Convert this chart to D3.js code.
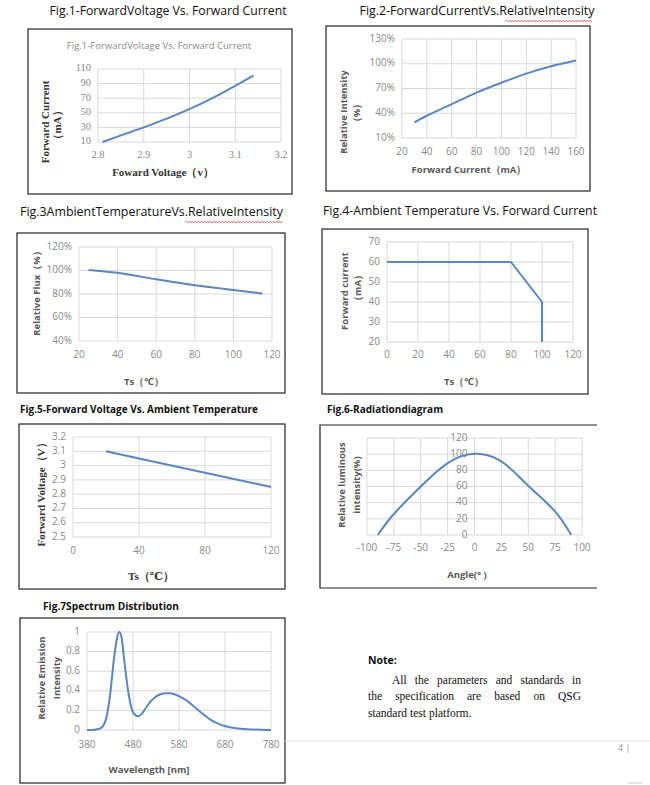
<!DOCTYPE html>
<html>
<head>
<meta charset="utf-8">
<script src="https://cdn.jsdelivr.net/npm/d3@7"></script>
<style>
  body { margin: 0; background: #fff; }
  svg { display: block; }
</style>
</head>
<body>
<div id="vizArea"></div>
<script>
// data
const fig1Voltage = [2.81, 2.85, 2.9, 2.95, 3.0, 3.05, 3.1, 3.14]
const fig1Current = [10, 19, 30, 42, 55, 70, 87, 101]

const fig2Current = [30, 40, 60, 80, 100, 120, 140, 160]
const fig2Intensity = [29, 37, 51, 65, 77, 88, 97, 104]

const fig3Temp = [25, 40, 60, 80, 100, 115]
const fig3Flux = [100.5, 98, 92.5, 87.5, 83.5, 80.5]

const fig4Temp = [0, 80, 100, 100]
const fig4Current = [60, 60, 40, 20]

const fig5Temp = [20, 40, 80, 120]
const fig5Voltage = [3.1, 3.05, 2.95, 2.85]

const fig6Angle = [-90, -75, -50, -25, 0, 25, 50, 75, 90]
const fig6Intensity = [0, 26, 60, 89, 100.5, 91, 61, 29, 0]

const fig7Wavelength = [380, 390, 400, 410, 420, 430, 440, 450, 455, 460, 470, 480, 490, 500, 510, 520, 530, 540, 550, 560,
    570, 580, 590, 600, 610, 620, 630, 640, 650, 660, 670, 680, 690, 700, 720, 740, 760, 780]
const fig7Emission = [0, 0, 0.005, 0.02, 0.09, 0.35, 0.78, 1.0, 0.95, 0.75, 0.38, 0.18, 0.14, 0.17, 0.24, 0.30, 0.34, 0.365, 0.375, 0.375,
    0.365, 0.345, 0.32, 0.29, 0.25, 0.21, 0.17, 0.135, 0.10, 0.075, 0.055, 0.04, 0.028, 0.02, 0.01, 0.005, 0.002, 0]

// tick values
const fig1XTicks = [2.8, 2.9, 3.0, 3.1, 3.2]
const fig1YTicks = [10, 30, 50, 70, 90, 110]
const fig2XTicks = [20, 40, 60, 80, 100, 120, 140, 160]
const fig2YTicks = [10, 40, 70, 100, 130]
const fig3XTicks = [20, 40, 60, 80, 100, 120]
const fig3YTicks = [40, 60, 80, 100, 120]
const fig4XTicks = [0, 20, 40, 60, 80, 100, 120]
const fig4YTicks = [20, 30, 40, 50, 60, 70]
const fig5XTicks = [0, 40, 80, 120]
const fig5YTicks = [2.5, 2.6, 2.7, 2.8, 2.9, 3.0, 3.1, 3.2]
const fig6XTicks = [-100, -75, -50, -25, 0, 25, 50, 75, 100]
const fig6YTicks = [0, 20, 40, 60, 80, 100, 120]
const fig7XTicks = [380, 480, 580, 680, 780]
const fig7YTicks = [0, 0.2, 0.4, 0.6, 0.8, 1]

const W = 650, H = 785
const blue = '#5a86c3'
const grid = '#d9d9d9'
const tickCol = '#8a8a8a'
const sans = '"Open Sans", "Noto Sans", sans-serif'
const serif = '"Liberation Serif", "DejaVu Serif", serif'

const svg = d3.select('#vizArea').append('svg')
    .attr('width', W)
    .attr('height', H)

function chart(o) {
    const g = svg.append('g')
    const [bx0, by0, bx1, by1] = o.box
    // frame
    if (o.openRight) {
        g.append('path')
            .attr('d', `M${bx1},${by0}H${bx0}V${by1}H${bx1}`)
            .attr('fill', 'none').attr('stroke', '#222').attr('stroke-width', 1.2)
    } else {
        g.append('rect')
            .attr('x', bx0).attr('y', by0).attr('width', bx1 - bx0).attr('height', by1 - by0)
            .attr('fill', 'none').attr('stroke', '#222').attr('stroke-width', 1.2)
    }

    const x = d3.scaleLinear().domain(o.xDomain).range(o.px)
    const y = d3.scaleLinear().domain(o.yDomain).range([o.py[1], o.py[0]])

    g.selectAll('.hg').data(o.yTicks).enter().append('line')
        .attr('x1', o.px[0]).attr('x2', o.px[1])
        .attr('y1', d => y(d)).attr('y2', d => y(d))
        .attr('stroke', grid).attr('stroke-width', 1)
    g.selectAll('.vg').data(o.xTicks).enter().append('line')
        .attr('x1', d => x(d)).attr('x2', d => x(d))
        .attr('y1', o.py[0]).attr('y2', o.py[1])
        .attr('stroke', grid).attr('stroke-width', 1)

    const tf = o.tickFont || sans
    const ts = o.tickSize || 10
    g.selectAll('.xt').data(o.xTicks).enter().append('text')
        .attr('x', d => x(d)).attr('y', o.xTickY)
        .attr('text-anchor', 'middle').attr('dominant-baseline', 'middle')
        .attr('font-family', tf).attr('font-size', ts).attr('fill', tickCol)
        .text(o.xFmt || (d => d))
    const yAxisX = o.yAxisAt !== undefined ? x(o.yAxisAt) : o.px[0]
    g.selectAll('.yt').data(o.yTicks).enter().append('text')
        .attr('x', yAxisX - 7).attr('y', d => y(d))
        .attr('text-anchor', 'end').attr('dominant-baseline', 'middle')
        .attr('font-family', tf).attr('font-size', ts).attr('fill', tickCol)
        .text(o.yFmt || (d => d))

    const line = d3.line()
        .x(d => x(d[0])).y(d => y(d[1]))
        .curve(o.curve || d3.curveLinear)
    g.append('path')
        .datum(d3.zip(o.xs, o.ys))
        .attr('d', line)
        .attr('fill', 'none').attr('stroke', blue).attr('stroke-width', 2)
        .attr('stroke-linejoin', 'round')

    // axis titles
    const lf = o.labelFont || sans
    const lc = o.labelColor || '#595959'
    const ls = o.labelSize || 9.5
    g.append('text')
        .attr('x', o.xLabel[1]).attr('y', o.xLabel[2])
        .attr('text-anchor', 'middle').attr('dominant-baseline', 'middle')
        .attr('font-family', lf).attr('font-weight', 'bold').attr('font-size', ls).attr('fill', lc)
        .text(o.xLabel[0])
    o.yLabel.forEach(l => {
        g.append('text')
            .attr('transform', `translate(${l[1]},${l[2]}) rotate(-90)`)
            .attr('text-anchor', 'middle').attr('dominant-baseline', 'middle')
            .attr('font-family', lf).attr('font-weight', 'bold').attr('font-size', ls).attr('fill', lc)
            .text(l[0])
    })
    return g
}

function title(txt, x, yy, anchor, bold, len) {
    const t = svg.append('text')
        .attr('x', x).attr('y', yy)
        .attr('text-anchor', anchor).attr('dominant-baseline', 'middle')
        .attr('font-family', sans).attr('font-size', bold ? 11 : 12)
        .attr('font-weight', bold ? 'bold' : 'normal').attr('fill', '#111')
        .text(txt)
    if (len) t.attr('textLength', len).attr('lengthAdjust', 'spacingAndGlyphs')
    return t
}

function wavy(x0, x1, yy) {
    let d = `M${x0},${yy}`
    let up = true
    for (let xx = x0 + 1.5; xx <= x1; xx += 1.5) {
        d += `L${xx},${yy + (up ? -1 : 1)}`
        up = !up
    }
    svg.append('path').attr('d', d).attr('fill', 'none').attr('stroke', '#e05050').attr('stroke-width', 0.7)
}

// ---- Fig.1
title('Fig.1-ForwardVoltage Vs. Forward Current', 168, 12, 'middle', false, 237)
chart({
    box: [28, 29, 292, 194], px: [98, 281], py: [69, 142],
    xDomain: [2.8, 3.2], yDomain: [10, 110], xTicks: fig1XTicks, yTicks: fig1YTicks,
    xFmt: d => (d === 3 ? '3' : d.toFixed(1)), xTickY: 156, tickFont: serif, tickSize: 10.5,
    xs: fig1Voltage, ys: fig1Current, curve: d3.curveMonotoneX,
    labelFont: serif, labelColor: '#333', labelSize: 11,
    xLabel: ['Foward Voltage（v）', 163, 173],
    yLabel: [['Forward Current', 46, 122], ['（mA）', 58, 125]]
})
svg.append('text').attr('x', 159).attr('y', 46)
    .attr('text-anchor', 'middle').attr('dominant-baseline', 'middle')
    .attr('font-family', sans).attr('font-size', 9.5).attr('fill', '#8a8a8a')
    .text('Fig.1-ForwardVoltage Vs. Forward Current')

// ---- Fig.2
title('Fig.2-ForwardCurrentVs.RelativeIntensity', 477, 12, 'middle', false, 235)
wavy(505, 593, 21)
chart({
    box: [326, 26, 590, 191], px: [402, 576], py: [39, 138],
    xDomain: [20, 160], yDomain: [10, 130], xTicks: fig2XTicks, yTicks: fig2YTicks,
    yFmt: d => d + '%', xTickY: 152,
    xs: fig2Current, ys: fig2Intensity, curve: d3.curveNatural,
    xLabel: ['Forward Current（mA）', 469, 170],
    yLabel: [['Relative Intensity', 344, 112], ['（%）', 357, 113]]
})

// ---- Fig.3
title('Fig.3AmbientTemperatureVs.RelativeIntensity', 20, 213, 'start', false, 263)
wavy(185, 283, 222)
chart({
    box: [17, 233, 285, 393], px: [79, 272], py: [247, 341],
    xDomain: [20, 120], yDomain: [40, 120], xTicks: fig3XTicks, yTicks: fig3YTicks,
    yFmt: d => d + '%', xTickY: 355,
    xs: fig3Temp, ys: fig3Flux, curve: d3.curveNatural,
    xLabel: ['Ts（℃）', 144, 382],
    yLabel: [['Relative Flux（%）', 37, 291]]
})

// ---- Fig.4
title('Fig.4-Ambient Temperature Vs. Forward Current', 323, 212, 'start', false, 274)
chart({
    box: [322, 229, 588, 394], px: [387, 573], py: [242, 342],
    xDomain: [0, 120], yDomain: [20, 70], xTicks: fig4XTicks, yTicks: fig4YTicks,
    xTickY: 355,
    xs: fig4Temp, ys: fig4Current,
    xLabel: ['Ts（℃）', 464, 382],
    yLabel: [['Forward current', 345, 291], ['（mA）', 358, 288]]
})

// ---- Fig.5
title('Fig.5-Forward Voltage Vs. Ambient Temperature', 20, 410, 'start', true, 238)
chart({
    box: [19, 424, 285, 589], px: [73, 271], py: [437, 537],
    xDomain: [0, 120], yDomain: [2.5, 3.2], xTicks: fig5XTicks, yTicks: fig5YTicks,
    yFmt: d => (d === 3 ? '3' : d.toFixed(1)), xTickY: 551,
    xs: fig5Temp, ys: fig5Voltage,
    xLabel: ['Ts（℃）', 151, 577],
    yLabel: [['Forward Voltage（V）', 42, 492]], labelFont: serif, labelColor: '#333', labelSize: 11
})

// ---- Fig.6
title('Fig.6-Radiationdiagram', 327, 410, 'start', true, 116)
chart({
    box: [320, 425, 597, 588], openRight: true, px: [367, 582], py: [438, 535],
    xDomain: [-100, 100], yDomain: [0, 120], xTicks: fig6XTicks, yTicks: fig6YTicks,
    yAxisAt: 0, xTickY: 548,
    xs: fig6Angle, ys: fig6Intensity, curve: d3.curveNatural,
    xLabel: ['Angle(° )', 467, 575],
    yLabel: [['Relative luminous', 342, 485], ['intensity(%)', 357, 485]]
})

// ---- Fig.7
title('Fig.7Spectrum Distribution', 43, 607, 'start', true, 136)
chart({
    box: [20, 618, 285, 783], px: [87, 271], py: [632, 730],
    xDomain: [380, 780], yDomain: [0, 1], xTicks: fig7XTicks, yTicks: fig7YTicks,
    xTickY: 745,
    xs: fig7Wavelength, ys: fig7Emission, curve: d3.curveMonotoneX,
    xLabel: ['Wavelength [nm]', 149, 770],
    yLabel: [['Relative Emission', 42, 678], ['Intensity', 57, 678]]
})

// ---- note
svg.append('text').attr('x', 368).attr('y', 664)
    .attr('font-family', sans).attr('font-weight', 'bold').attr('font-size', 10.5).attr('fill', '#111')
    .text('Note:')
const noteLines = [
    ['All the parameters and standards in', 392, 684, 581],
    ['the specification are based on QSG', 368, 700, 581],
    ['standard test platform.', 368, 717, 0]
]
noteLines.forEach(l => {
    const words = l[0].split(' ')
    const ts = words.map(w => svg.append('text').attr('y', l[2])
        .attr('font-family', serif).attr('font-size', 11.5).attr('fill', '#111')
        .text(w))
    const widths = ts.map(t => t.node().getComputedTextLength())
    const total = d3.sum(widths)
    // justified lines spread the gaps, the last one keeps normal spacing
    const gap = l[3] ? (l[3] - l[1] - total) / (words.length - 1) : 3
    let cx = l[1]
    ts.forEach((t, i) => {
        t.attr('x', cx)
        cx += widths[i] + gap
    })
})

// page footer
svg.append('line').attr('x1', 285).attr('x2', 650).attr('y1', 741).attr('y2', 741)
    .attr('stroke', '#e6e6e6')
svg.append('text').attr('x', 618).attr('y', 751)
    .attr('font-family', sans).attr('font-size', 9).attr('fill', '#999')
    .text('4 |')
svg.append('line').attr('x1', 628).attr('x2', 642).attr('y1', 783).attr('y2', 783)
    .attr('stroke', '#ccc')
</script>
</body>
</html>
